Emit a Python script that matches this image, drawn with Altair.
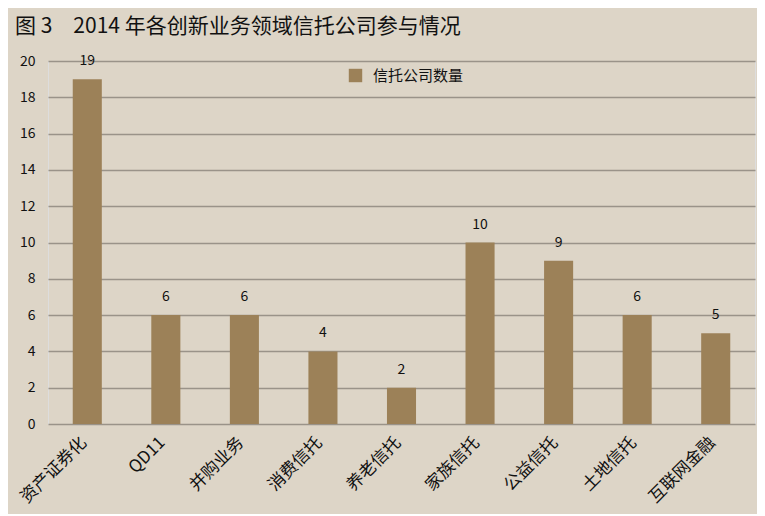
import altair as alt
import pandas as pd

categories = ["资产证券化", "QD11", "并购业务", "消费信托", "养老信托", "家族信托", "公益信托", "土地信托", "互联网金融"]
values = [19, 6, 6, 4, 2, 10, 9, 6, 5]
series_name = "信托公司数量"
y_ticks = [0, 2, 4, 6, 8, 10, 12, 14, 16, 18, 20]

df = pd.DataFrame({"cat": categories, "val": values, "series": [series_name] * len(values)})

FONT = "Noto Sans CJK SC"
BG = "#ddd5c7"
BAR = "#9c8158"

x_enc = alt.X("cat:N", sort=categories, title=None,
              scale=alt.Scale(paddingInner=0.63, paddingOuter=0.315),
              axis=alt.Axis(labelAngle=-45, labelFontSize=17, labelFont=FONT, labelColor="#111",
                            domain=False, ticks=False, labelPadding=10, labelOffset=-9, grid=False))
y_enc = alt.Y("val:Q", title=None, scale=alt.Scale(domain=[0, 20], nice=False),
              axis=alt.Axis(values=y_ticks, labelFontSize=14, labelFont=FONT, labelColor="#111",
                            domain=False, ticks=False, labelPadding=13, grid=True,
                            labelOverlap=False, gridColor="#9a9389", gridWidth=1.5))

bars = alt.Chart(df).mark_bar(color=BAR).encode(
    x=x_enc, y=y_enc,
    color=alt.Color("series:N", scale=alt.Scale(range=[BAR]),
                    legend=alt.Legend(title=None, orient="none", legendX=300, legendY=7,
                                      symbolType="square", symbolSize=180, symbolStrokeWidth=0,
                                      labelFontSize=15, labelFont=FONT, labelColor="#111",
                                      labelOffset=10))
)

labels = alt.Chart(df).mark_text(dy=-18, fontSize=14, font=FONT, color="#111", baseline="middle").encode(
    x=x_enc, y=y_enc, text="val:Q"
)

chart = alt.layer(bars, labels).properties(
    width=707, height=363,
    background=BG,
    autosize=alt.AutoSizeParams(type="none"),
    padding={"left": 40, "top": 53, "right": 2, "bottom": 90},
    title=alt.TitleParams("图 3\u2002\u20022014 年各创新业务领域信托公司参与情况", anchor="start", frame="group",
                          fontSize=21, font=FONT, fontWeight="normal", color="#111",
                          dx=-33, offset=17),
).configure_view(stroke=None).configure(background=BG)

chart.save("out.html", embed_options={"renderer": "svg", "actions": False})
